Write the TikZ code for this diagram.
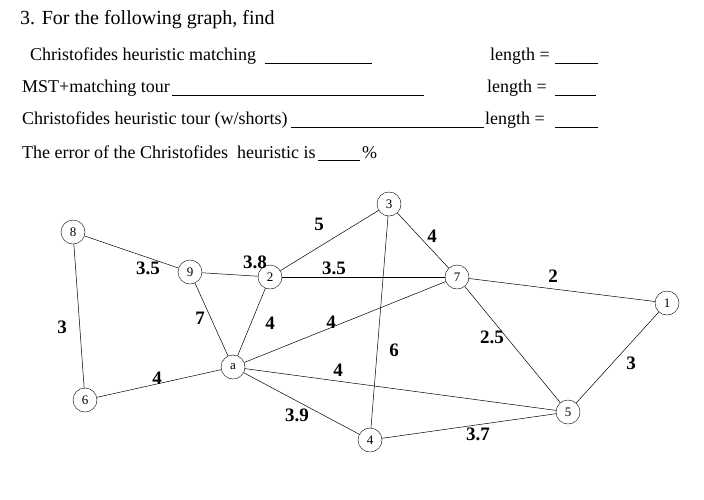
\documentclass[tikz,border=0pt]{standalone}
\usepackage{fontspec}
\setmainfont{Liberation Serif}
\begin{document}
\begin{tikzpicture}[x=1pt,y=-1pt,
 v/.style={circle,draw,fill=white,minimum size=24pt,inner sep=0pt,font=\fontsize{13}{13}\selectfont},
 w/.style={font=\bfseries\fontsize{19}{19}\selectfont},
 t/.style={anchor=base west,inner sep=0pt,font=\fontsize{18}{18}\selectfont},
 e/.style={line width=0.5pt}]
\useasboundingbox (0,0) rectangle (704,499);
\node[t,font=\fontsize{20}{20}\selectfont] (h) at (20,24) {3. For the following graph, find};
\node[t] (r1) at (30,60) {Christofides heuristic matching};
\node[t] (r2) at (22,92) {MST+matching tour};
\node[t] (r3) at (22,124) {Christofides heuristic tour (w/shorts)};
\node[t] (r4) at (22,158) {The error of the Christofides\ \ heuristic is};
\node[t] (l1) at (490,60) {length =};
\node[t] (l2) at (487,92) {length =};
\node[t] (l3) at (485,124) {length =};
\node[t] (pc) at (362,158) {\%};
\draw[e] (265,63)--(372,63) (555,63)--(598,63);
\draw[e] (172,95)--(424,95) (555,95)--(596,95);
\draw[e] (291,127)--(484,127) (555,127)--(598,127);
\draw[e] (318,160)--(360,160);
\node[v] (n8) at (73,232) {8};
\node[v] (n9) at (190,272) {9};
\node[v] (n2) at (270,277) {2};
\node[v] (n3) at (389,204) {3};
\node[v] (n7) at (457,277) {7};
\node[v] (n1) at (667,303) {1};
\node[v] (na) at (233,367) {a};
\node[v] (n6) at (85,400) {6};
\node[v] (n4) at (370,440) {4};
\node[v] (n5) at (568,412) {5};
\foreach \a/\b in {n8/n9,n8/n6,n9/n2,n9/na,n2/n3,n2/n7,n2/na,n3/n7,n3/n4,n7/n1,n7/na,n7/n5,n1/n5,na/n6,na/n4,na/n5,n4/n5}
  \draw[e] (\a)--(\b);
\node[w] (w1) at (148,268) {3.5};
\node[w] (w2) at (255,262) {3.8};
\node[w] (w3) at (319,224) {5};
\node[w] (w4) at (334,268) {3.5};
\node[w] (w5) at (432,236) {4};
\node[w] (w6) at (553,276) {2};
\node[w] (w7) at (62,327) {3};
\node[w] (w8) at (200,318) {7};
\node[w] (w9) at (270,323) {4};
\node[w] (w10) at (331,322) {4};
\node[w] (w11) at (394,350) {6};
\node[w] (w12) at (492,337) {2.5};
\node[w] (w13) at (631,363) {3};
\node[w] (w14) at (157,378) {4};
\node[w] (w15) at (338,370) {4};
\node[w] (w16) at (297,415) {3.9};
\node[w] (w17) at (478,434) {3.7};
\end{tikzpicture}
\end{document}
